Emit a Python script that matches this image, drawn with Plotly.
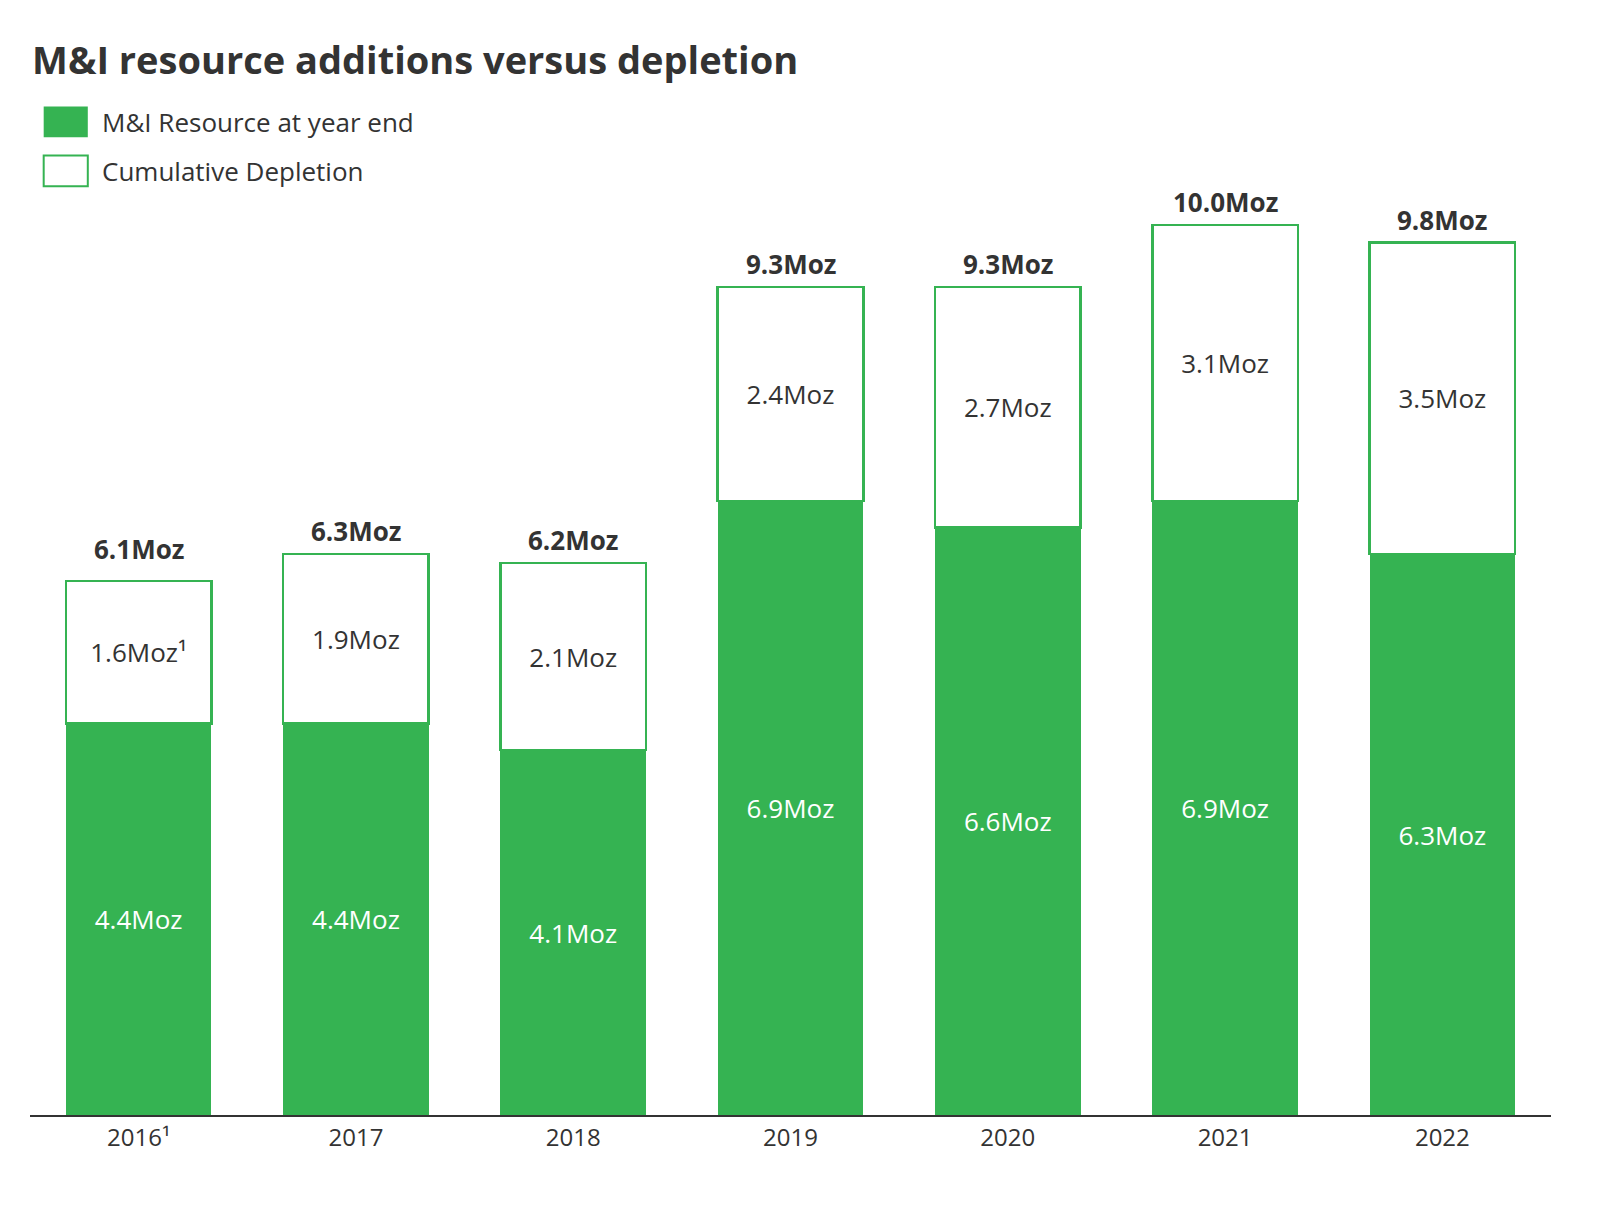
import plotly.graph_objects as go

years = ["2016¹", "2017", "2018", "2019", "2020", "2021", "2022"]
resource = [4.4, 4.4, 4.1, 6.9, 6.6, 6.9, 6.3]
depletion = [1.6, 1.9, 2.1, 2.4, 2.7, 3.1, 3.5]
totals = [6.1, 6.3, 6.2, 9.3, 9.3, 10.0, 9.8]
res_labels = ["4.4Moz", "4.4Moz", "4.1Moz", "6.9Moz", "6.6Moz", "6.9Moz", "6.3Moz"]
dep_labels = ["1.6Moz¹", "1.9Moz", "2.1Moz", "2.4Moz", "2.7Moz", "3.1Moz", "3.5Moz"]
tot_labels = ["6.1Moz", "6.3Moz", "6.2Moz", "9.3Moz", "9.3Moz", "10.0Moz", "9.8Moz"]

GREEN = "#35b352"
FONT = "Open Sans"

fig = go.Figure()
fig.add_bar(x=years, y=resource, marker=dict(color=GREEN, line=dict(width=0)),
            text=res_labels, textposition="inside", insidetextanchor="middle",
            textfont=dict(color="white", size=26, family=FONT), width=0.67)
fig.add_bar(x=years, y=depletion, marker=dict(color="white", line=dict(color=GREEN, width=2.5)),
            text=dep_labels, textposition="inside", insidetextanchor="middle",
            textfont=dict(color="#333333", size=26, family=FONT), width=0.67)

for i, (t, lab) in enumerate(zip(totals, tot_labels)):
    fig.add_annotation(x=i, y=t, text=f"<b>{lab}</b>", showarrow=False, yanchor="bottom",
                       yshift=3, font=dict(size=26, color="#333333", family=FONT))

# legend
fig.add_shape(type="rect", xref="paper", yref="paper", x0=0.009, x1=0.038, y0=1.078, y1=1.112,
              fillcolor=GREEN, line=dict(width=0))
fig.add_shape(type="rect", xref="paper", yref="paper", x0=0.009, x1=0.038, y0=1.024, y1=1.058,
              fillcolor="white", line=dict(color=GREEN, width=2))
fig.add_annotation(xref="paper", yref="paper", x=0.046, y=1.095, text="M&I Resource at year end",
                   showarrow=False, xanchor="left", yanchor="middle",
                   font=dict(size=26, color="#333333", family=FONT))
fig.add_annotation(xref="paper", yref="paper", x=0.046, y=1.041, text="Cumulative Depletion",
                   showarrow=False, xanchor="left", yanchor="middle",
                   font=dict(size=26, color="#333333", family=FONT))

fig.update_layout(
    barmode="stack", showlegend=False, width=1604, height=1216,
    paper_bgcolor="white", plot_bgcolor="white",
    margin=dict(l=22, r=61, t=200, b=109),
    title=dict(text="<b>M&I resource additions versus depletion</b>", x=0.015, xanchor="left",
               y=0.957, yanchor="middle", font=dict(size=38, color="#333333", family=FONT)),
    xaxis=dict(type="category", showline=True, linecolor="#333333", linewidth=1.5, ticks="",
               tickfont=dict(size=24, color="#333333", family=FONT), range=[-0.5, 6.5]),
    yaxis=dict(visible=False, range=[0, 10.19]),
)
fig.write_html("out.html")
